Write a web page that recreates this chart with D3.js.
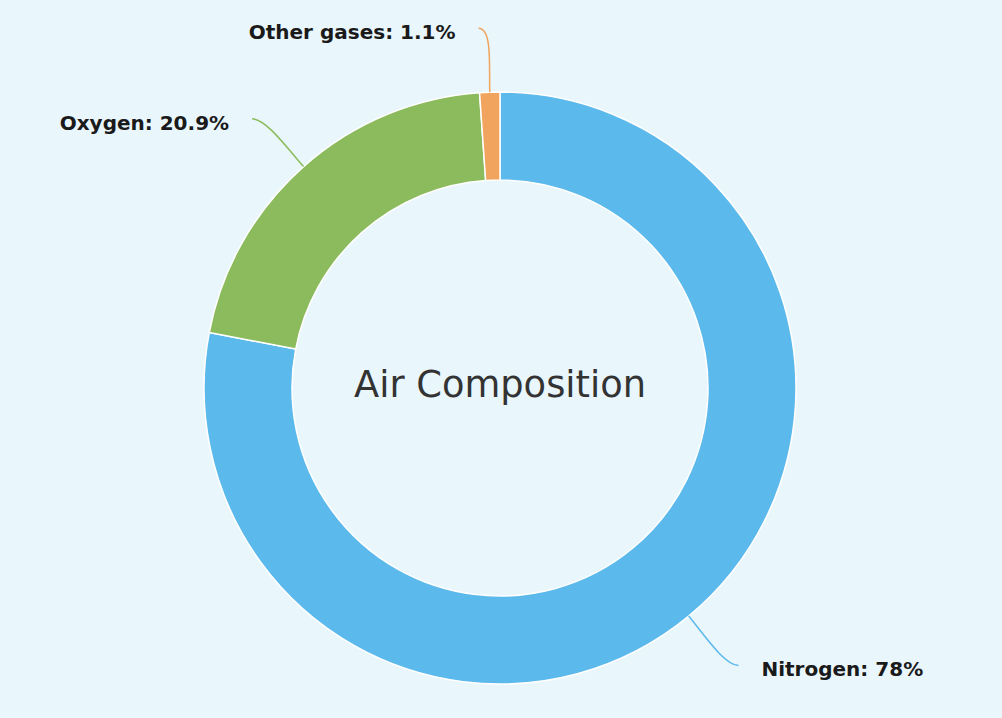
<!DOCTYPE html>
<html>
<head>
<meta charset="utf-8">
<script src="https://cdn.jsdelivr.net/npm/d3@7"></script>
<style>
html,body{margin:0;padding:0;background:#e9f6fc;}
svg{display:block;}
</style>
</head>
<body>
<svg id="chart" width="1002" height="718"></svg>
<script>
const categories = ["Nitrogen", "Oxygen", "Other gases"];
const values = [78, 20.9, 1.1];
const valueLabels = ["78%", "20.9%", "1.1%"];
const colors = ["#5cb9ec", "#8bbb5c", "#f0a45e"];
const centerTitle = "Air Composition";

const W = 1002, H = 718;
const cx = 500, cy = 388;
const outerR = 296, innerR = 208;
const labelDist = 64;

const svg = d3.select("#chart");
svg.append("rect").attr("width", W).attr("height", H).attr("fill", "#e9f6fc");

const data = categories.map((c, i) => ({name: c, value: values[i], label: valueLabels[i], color: colors[i]}));
const pie = d3.pie().value(d => d.value).sort(null);
const arcs = pie(data);
const arc = d3.arc().innerRadius(innerR).outerRadius(outerR);

const g = svg.append("g").attr("transform", `translate(${cx},${cy})`);

g.selectAll("path.slice").data(arcs).enter().append("path")
  .attr("class", "slice")
  .attr("d", arc)
  .attr("fill", d => d.data.color)
  .attr("stroke", "#ffffff")
  .attr("stroke-width", 1.5)
  .attr("stroke-linejoin", "round");

// connectors and labels
arcs.forEach(a => {
  const mid = (a.startAngle + a.endAngle) / 2;
  const sx = Math.sin(mid), sy = -Math.cos(mid);
  const right = sx > 0;
  const dir = right ? 1 : -1;
  const p0 = [outerR * sx, outerR * sy];
  const p2 = [(outerR + labelDist) * sx + dir * 9, (outerR + labelDist) * sy];
  const c1 = [p0[0] + 25 * sx, p0[1] + 25 * sy];
  const c2 = [p2[0] - dir * 14, p2[1]];
  g.append("path")
    .attr("d", `M${p0[0]},${p0[1]} C${c1[0]},${c1[1]} ${c2[0]},${c2[1]} ${p2[0]},${p2[1]}`)
    .attr("fill", "none")
    .attr("stroke", a.data.color)
    .attr("stroke-width", 1.5);
  g.append("text")
    .attr("x", p2[0] + dir * 23)
    .attr("y", p2[1] + 4)
    .attr("text-anchor", right ? "start" : "end")
    .attr("dominant-baseline", "central")
    .attr("font-family", "DejaVu Sans, Verdana, sans-serif")
    .attr("font-weight", "bold")
    .attr("font-size", 20)
    .attr("fill", "#1a1a1a")
    .text(`${a.data.name}: ${a.data.label}`);
});

g.append("text")
  .attr("x", 0)
  .attr("y", -4)
  .attr("text-anchor", "middle")
  .attr("dominant-baseline", "central")
  .attr("font-family", "DejaVu Sans, Verdana, sans-serif")
  .attr("font-size", 36.8)
  .attr("fill", "#333333")
  .text(centerTitle);
</script>
</body>
</html>
